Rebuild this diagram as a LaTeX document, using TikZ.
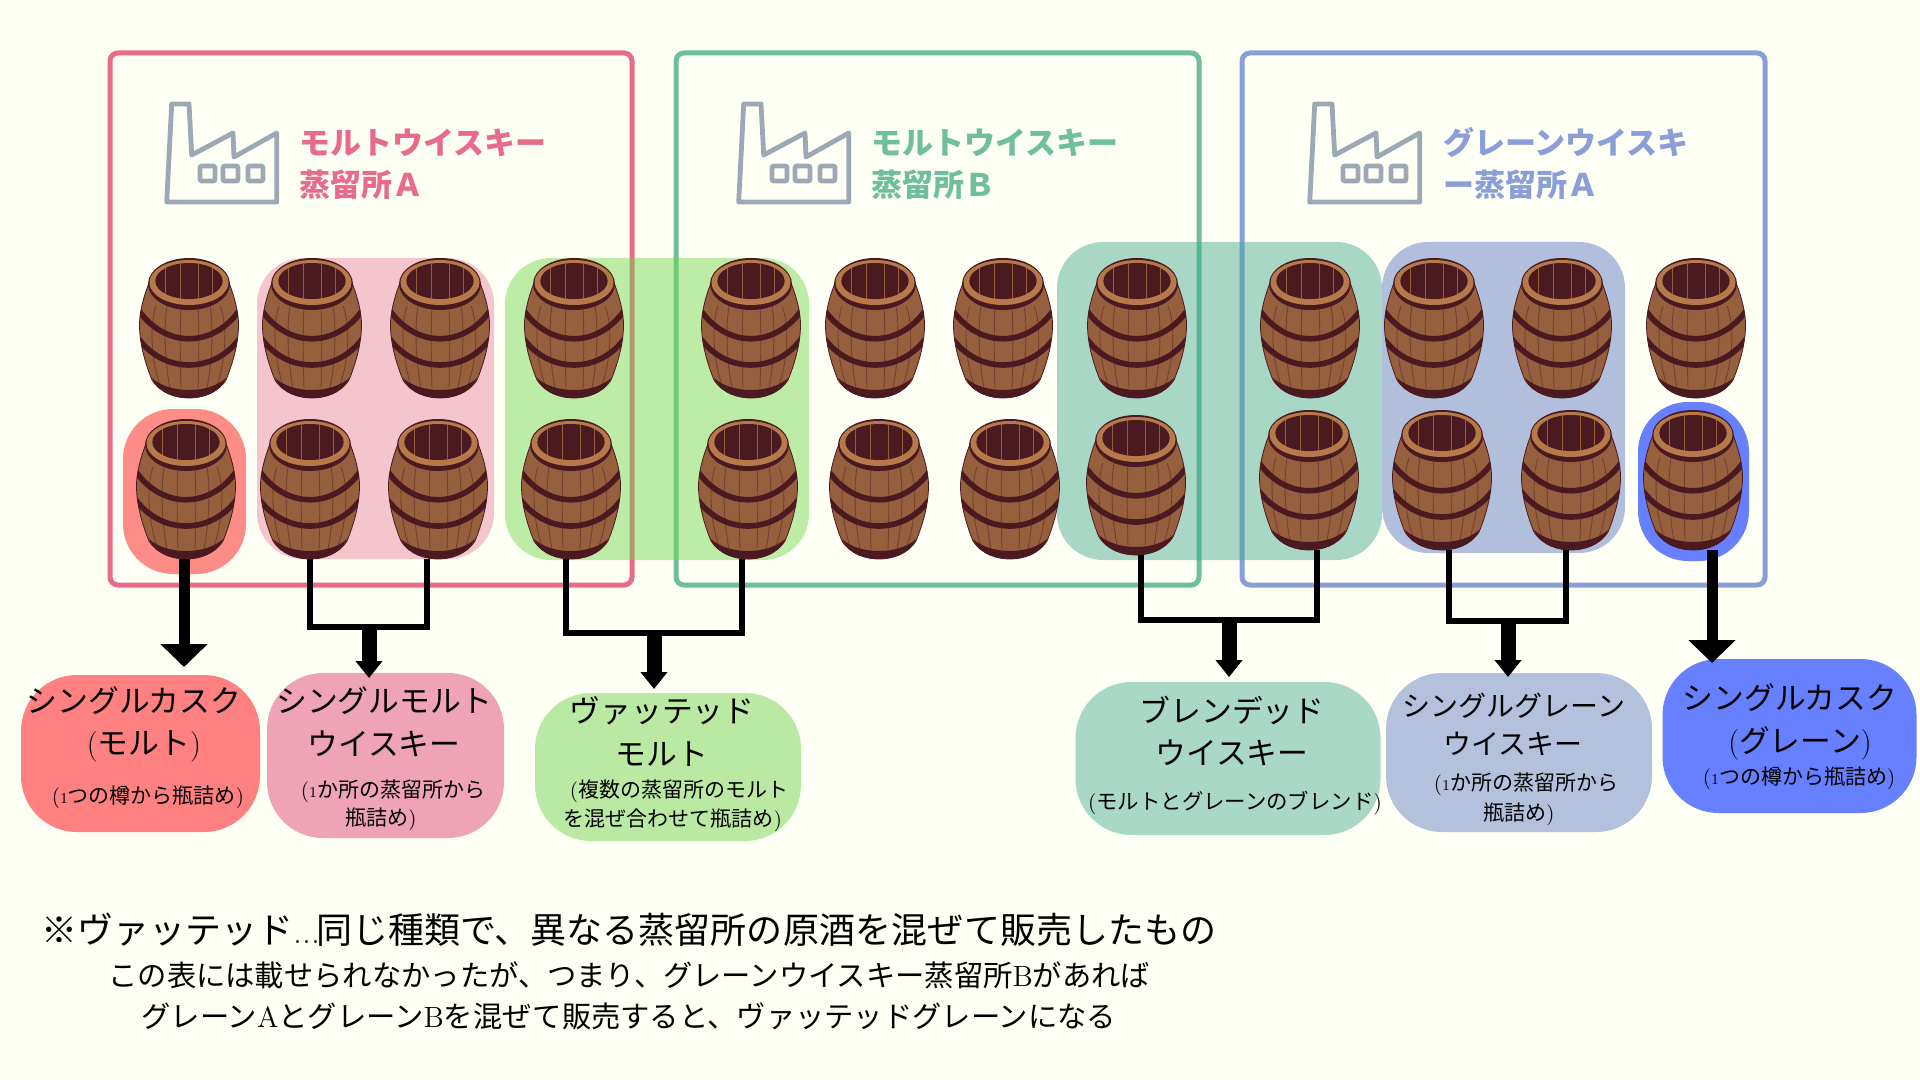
\documentclass[tikz,border=0pt]{standalone}
\usepackage{fontspec}
\usetikzlibrary{arrows.meta}
\newfontfamily\jpfont{Noto Sans CJK JP}
\newcommand{\parL}{{\rmfamily(}}
\newcommand{\parR}{{\rmfamily)}}
\newcommand{\oneL}{{\rmfamily\fontsize{7.5}{9}\selectfont 1}}
\newcommand{\barrelbody}{(-40,-45) .. controls (-46,-30) and (-49.5,-15) .. (-49.5,-3) .. controls (-49.5,15) and (-44,35) .. (-37,52) .. controls (-28,66) and (-12,70) .. (0,70) .. controls (12,70) and (28,66) .. (37,52) .. controls (44,35) and (49.5,15) .. (49.5,-3) .. controls (49.5,-15) and (46,-30) .. (40,-45) -- cycle}
\definecolor{paper}{HTML}{FEFFF5}
\definecolor{pinkline}{HTML}{E86A8C}
\definecolor{tealline}{HTML}{6EBE9F}
\definecolor{blueline}{HTML}{8A9FD8}
\definecolor{iconline}{HTML}{9CA9B5}
\definecolor{wood}{HTML}{965F3E}
\definecolor{hoopdark}{HTML}{4A1A20}
\definecolor{ringwood}{HTML}{B5794A}
\tikzset{
    frame/.style={line width=2.5pt, rounded corners=4pt},
    zone/.style={fill opacity=.45, rounded corners=23pt},
    cell/.style={minimum width=49.5pt, minimum height=70pt, inner sep=0pt},
    result/.style={inner sep=0pt, rounded corners=28pt},
    hdr/.style={font=\jpfont\bfseries\fontsize{15.5}{21}\selectfont, align=left, anchor=west, inner sep=0pt, yshift=-.5pt},
    ttl/.style={font=\jpfont\fontsize{15.4}{21}\selectfont, inner sep=0pt, yshift=-.5pt},
    subt/.style={font=\jpfont\fontsize{10.5}{14}\selectfont, inner sep=0pt, yshift=-.5pt},
    notebig/.style={font=\jpfont\fontsize{18}{21}\selectfont, anchor=west, inner sep=0pt},
    notesmall/.style={font=\jpfont\fontsize{14.65}{18}\selectfont, anchor=west, inner sep=0pt},
    forkline/.style={line width=3pt},
    wideshaft/.style={line width=5.5pt, -{Triangle[width=23pt,length=11.5pt]}},
    shortshaft/.style={line width=7.5pt, -{Triangle[width=13pt,length=8.5pt]}},
    pics/factory/.style={code={
        \draw[iconline, line width=2.4pt, line join=round] (21.7,14) -- (39,14) -- (41.7,65) -- (83,43) -- (84,67) -- (126.7,43) -- (126.7,112) -- (16.7,112) -- cycle;
        \foreach \wx in {50,73,98}
            \draw[iconline, line width=2.4pt, rounded corners=1pt] (\wx,76) rectangle (\wx+15,91);
    }},
    pics/barrel/.style={code={
        \fill[wood] \barrelbody;
        \begin{scope}
            \clip \barrelbody;
            \foreach \a/\b/\c in {-33/-39/-28,-22/-25/-19,-8/-9/-8,9/10/9,21/24/18,31/38/27}
                \draw[hoopdark!45!wood, line width=.45pt] (\a,-22) .. controls (\b,-5) and (\b,30) .. (\c,60);
            \draw[hoopdark, line width=2.8pt] (-52,-20) .. controls (-25,21) and (25,21) .. (52,-20);
            \draw[hoopdark, line width=2.8pt] (-51,10) .. controls (-25,46) and (25,46) .. (51,10);
        \end{scope}
        \draw[hoopdark, line width=.4pt] \barrelbody;
        \fill[hoopdark] (-37,50) .. controls (-20,66) and (20,66) .. (37,50) .. controls (30,66) and (12,70) .. (0,70) .. controls (-12,70) and (-30,66) .. (-37,50) -- cycle;
        \fill[hoopdark] (0,-44) ellipse (41 and 26);
        \fill[ringwood] (0,-45.5) ellipse (39.5 and 22.5);
        \fill[hoopdark] (0,-47) ellipse (33.7 and 18);
        \begin{scope}
            \clip (0,-47) ellipse (33.7 and 18);
            \foreach \sx in {-24,-9,9,23}
                \draw[ringwood!70!hoopdark, line width=.5pt] (\sx,-70) -- (\sx,-25);
        \end{scope}
    }},
}

\begin{document}
\begin{tikzpicture}[x=0.5pt,y=-0.5pt]

\useasboundingbox (0,0) rectangle (1920,1080);
\fill[paper] (0,0) rectangle (1920,1080);

% distillery frames
\draw[frame, pinkline] (110,53) rectangle (632,585);
\draw[frame, tealline] (676,53) rectangle (1199,585);
\draw[frame, blueline] (1242,53) rectangle (1765,585);

% groups of casks
\fill[zone, rounded corners=25pt, fill=red] (123,409) rectangle (246,574);
\fill[zone, fill={rgb,255:red,232;green,128;blue,158}] (257,258) rectangle (494,559);
\fill[zone, fill={rgb,255:red,110;green,215;blue,74}] (505,258) rectangle (809,560);
\fill[zone, fill={rgb,255:red,65;green,168;blue,141}] (1057,242) rectangle (1382,560);
\fill[zone, fill={rgb,255:red,85;green,115;blue,191}] (1382,242) rectangle (1625,553);
\fill[rounded corners=25pt, fill={rgb,255:red,102;green,128;blue,255}] (1638,402) rectangle (1749,561);

\pic at (150,90) {factory};
\pic at (722,90) {factory};
\pic at (1293,90) {factory};

\node[hdr, pinkline] (head1) at (299,163) {モルトウイスキー\\蒸留所Ａ};
\node[hdr, tealline] (head2) at (871,163) {モルトウイスキー\\蒸留所Ｂ};
\node[hdr, blueline] (head3) at (1443,162) {グレーンウイスキ\\ー蒸留所Ａ};

\foreach \i/\cx in {1/189,2/312,3/440,4/574,5/751,6/875,7/1003,8/1137,9/1310,10/1434,11/1562,12/1696}
{
    \node[cell] (t\i) at (\cx,328) {};
    \pic at (t\i) {barrel};
}
\foreach \i/\cx/\cy in {1/186/489,2/310/489,3/438/489,4/571/489,5/748/489,6/879/489,7/1010/489,8/1136/485,9/1309/480,10/1442/480,11/1571/480,12/1693/480}
{
    \node[cell] (u\i) at (\cx,\cy) {};
    \pic at (u\i) {barrel};
}

% result boxes
\node[result, fill={rgb,255:red,255;green,128;blue,128}, minimum width=119.5pt, minimum height=78.5pt] (box1) at (140.5,753.5) {};
\node[result, fill={rgb,255:red,239;green,163;blue,183}, minimum width=118.5pt, minimum height=82.5pt] (box2) at (385.5,755.5) {};
\node[result, fill={rgb,255:red,186;green,233;blue,163}, minimum width=133pt, minimum height=74pt] (box3) at (668,767) {};
\node[result, fill={rgb,255:red,169;green,216;blue,198}, minimum width=152.5pt, minimum height=76.5pt] (box4) at (1228,758.5) {};
\node[result, fill={rgb,255:red,179;green,193;blue,221}, minimum width=133pt, minimum height=79.5pt] (box5) at (1519,752.5) {};
\node[result, fill={rgb,255:red,102;green,128;blue,255}, minimum width=127pt, minimum height=77pt] (box6) at (1789.5,736) {};

\node[ttl] (tx1a) at (134,700) {シングルカスク};
\node[ttl] (tx1b) at (144,745) {\parL モルト\parR};
\node[subt] (tx1c) at (148,796) {\parL\oneL つの樽から瓶詰め\parR};

\node[ttl] (tx2a) at (384,700) {シングルモルト};
\node[ttl] (tx2b) at (384,743) {ウイスキー};
\node[subt] (tx2c) at (393,790) {\parL\oneL か所の蒸留所から};
\node[subt] (tx2d) at (381,818) {瓶詰め\parR};

\node[ttl] (tx3a) at (662,710) {ヴァッテッド};
\node[ttl] (tx3b) at (662,753) {モルト};
\node[subt] (tx3c) at (679,790) {\parL 複数の蒸留所のモルト};
\node[subt] (tx3d) at (673,819) {を混ぜ合わせて瓶詰め\parR};

\node[ttl] (tx4a) at (1232,709) {ブレンデッド};
\node[ttl] (tx4b) at (1232,752) {ウイスキー};
\node[subt, font=\jpfont\fontsize{10.7}{14}\selectfont] (tx4c) at (1235,802) {\parL モルトとグレーンのブレンド\parR};

\node[ttl, font=\jpfont\fontsize{14}{18}\selectfont] (tx5a) at (1514,705) {シングルグレーン};
\node[ttl, font=\jpfont\fontsize{14}{18}\selectfont] (tx5b) at (1513,743) {ウイスキー};
\node[subt] (tx5c) at (1526,783) {\parL\oneL か所の蒸留所から};
\node[subt] (tx5d) at (1519,813) {瓶詰め\parR};

\node[ttl] (tx6a) at (1790,697) {シングルカスク};
\node[ttl] (tx6b) at (1800,742) {\parL グレーン\parR};
\node[subt] (tx6c) at (1799,777) {\parL\oneL つの樽から瓶詰め\parR};

% connectors
\coordinate (tip1) at (184,667);
\coordinate (tip6) at (1712,663);
\draw[wideshaft] (tip1 |- u1.south) -- (tip1);
\draw[wideshaft] (tip6 |- u12.south) -- (tip6);

\coordinate (mid2) at (369,627);
\coordinate (tip2) at (369,678);
\draw[forkline] (u2.south) |- (mid2) -| ([xshift=-5.5pt]u3.south);
\draw[shortshaft] (mid2) -- (tip2);

\coordinate (mid3) at (654,633);
\coordinate (tip3) at (654,689);
\draw[forkline] ([xshift=-2.5pt]u4.south) |- (mid3) -| ([xshift=-3pt]u5.south);
\draw[shortshaft] (mid3) -- (tip3);

\coordinate (mid4) at (1229,620);
\coordinate (tip4) at (1229,677);
\draw[forkline] ([xshift=2.5pt]u8.south) |- (mid4) -| ([xshift=4pt]u9.south);
\draw[shortshaft] (mid4) -- (tip4);

\coordinate (mid5) at (1508,621);
\coordinate (tip5) at (1508,677);
\draw[forkline] ([xshift=3.5pt]u10.south) |- (mid5) -| ([xshift=-2.5pt]u11.south);
\draw[shortshaft] (mid5) -- (tip5);

% notes
\node[notebig] (note1) at (41,930) {※ヴァッテッド{\rmfamily...}\kern-2pt 同じ種類で、異なる蒸留所の原酒を混ぜて販売したもの};
\node[notesmall] (note2) at (108,975) {この表には載せられなかったが、つまり、グレーンウイスキー蒸留所{\rmfamily B}があれば};
\node[notesmall] (note3) at (141,1016) {グレーン{\rmfamily A}とグレーン{\rmfamily B}を混ぜて販売すると、ヴァッテッドグレーンになる};

\end{tikzpicture}
\end{document}
